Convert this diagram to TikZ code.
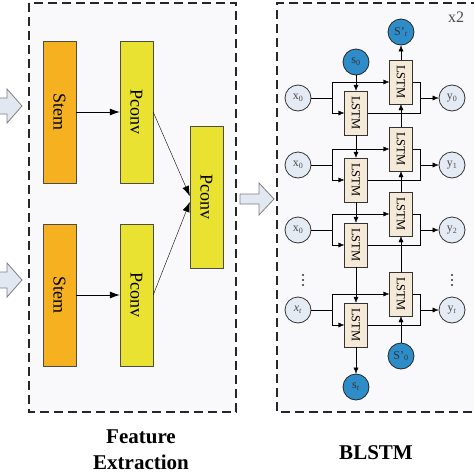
\documentclass[tikz,border=0pt]{standalone}
\usepackage{fontspec}
\setmainfont{Liberation Serif}
\usetikzlibrary{arrows.meta}

\definecolor{stemorange}{HTML}{F5B120}
\definecolor{pconvyellow}{HTML}{E9E231}
\definecolor{lstmbeige}{HTML}{F5EAD8}
\definecolor{inputgray}{HTML}{E4EBF4}
\definecolor{stateblue}{HTML}{2E8CC8}
\definecolor{panelgray}{HTML}{F9F8FA}
\definecolor{arrowgray}{HTML}{E2E8F1}

\tikzset{
  stembox/.style={draw=black!70, fill=stemorange, minimum width=33pt, minimum height=142pt,
    font=\fontsize{18}{18}\selectfont},
  pconvbox/.style={draw=black!70, fill=pconvyellow, minimum width=33pt, minimum height=142pt,
    font=\fontsize{18}{18}\selectfont},
  lstmbox/.style={draw=black!80, fill=lstmbeige, minimum width=23pt, minimum height=44pt,
    inner sep=0pt, font=\fontsize{12.5}{12.5}\selectfont},
  innode/.style={circle, draw=black!80, thick, fill=inputgray, minimum size=26pt, inner sep=0pt,
    font=\fontsize{12}{12}\selectfont, text=black!70},
  statenode/.style={circle, draw=black!85, thick, fill=stateblue, minimum size=26pt, inner sep=0pt,
    font=\fontsize{12}{12}\selectfont, text=black!80},
  dashline/.style={line width=1.6pt, dash pattern=on 9pt off 5pt, draw=black!85},
  blockarrow/.style={draw=black!50, fill=arrowgray, line width=0.8pt},
  bigtip/.style={-{Latex[length=10pt,width=7pt]}, thick},
  title/.style={font=\fontsize{21}{26}\selectfont\bfseries, align=center}
}

\begin{document}
\begin{tikzpicture}[x=1pt, y=-1pt, >={Latex[length=6pt,width=5pt]}]
  \useasboundingbox (0,0) rectangle (474,474);
  \clip (0,0) rectangle (474,474);
  \fill[white] (0,0) rectangle (474,474);

  % panels
  \fill[panelgray] (29,3) rectangle (236,412);
  \draw[dashline] (29,3) rectangle (236,412);
  \fill[panelgray] (277,3) rectangle (480,412);
  \draw[dashline] (480,3) -- (277,3) -- (277,412) -- (480,412);

  % block arrows
  \foreach \y in {106,280}
    \draw[blockarrow] (-5,\y-8) -- (7,\y-8) -- (7,\y-17) -- (22,\y) -- (7,\y+17) -- (7,\y+8) -- (-5,\y+8);
  \draw[blockarrow] (240,194) -- (259,194) -- (259,183) -- (274,199) -- (259,215) -- (259,204) -- (240,204) -- cycle;

  % feature extraction
  \node[stembox] (stem1) at (59.5,112) {\rotatebox{-90}{Stem}};
  \node[stembox] (stem2) at (59.5,295) {\rotatebox{-90}{Stem}};
  \node[pconvbox] (pconv1) at (136.5,112) {\rotatebox{-90}{Pconv}};
  \node[pconvbox] (pconv2) at (136.5,295) {\rotatebox{-90}{Pconv}};
  \node[pconvbox] (pconv3) at (206.5,197) {\rotatebox{-90}{Pconv}};
  \draw[bigtip] (stem1) -- (pconv1);
  \draw[bigtip] (stem2) -- (pconv2);
  \draw[bigtip, thin] (pconv1.east) -- ([yshift=1pt]pconv3.west);
  \draw[bigtip, thin] (pconv2.east) -- ([yshift=-5pt]pconv3.west);

  % blstm
  \foreach \i/\y/\xl/\yl in {1/98/x\textsubscript{0}/y\textsubscript{0},
      2/165/x\textsubscript{0}/y\textsubscript{1},
      3/230/x\textsubscript{0}/y\textsubscript{2},
      4/310/\textit{x}\textsubscript{\textit{t}}/y\textsubscript{\textit{t}}} {
    \node[innode] (x\i) at (298,\y) {\xl};
    \node[innode] (y\i) at (452,\y) {\yl};
    \node[lstmbox] (f\i) at (356,\y+15) {\rotatebox{-90}{LSTM}};
    \node[lstmbox] (b\i) at (401,\y-16) {\rotatebox{-90}{LSTM}};
    \coordinate (sp\i) at (332,\y);
    \coordinate (mg\i) at (420,\y);
    \draw (x\i) -- (sp\i);
    \draw[->] (sp\i) |- (b\i.west);
    \draw[->] (sp\i) |- (f\i.west);
    \draw (b\i.east) -| (mg\i);
    \draw (f\i.east) -| (mg\i);
    \draw[->] (mg\i) -- (y\i);
  }
  \node[statenode] (s0) at (356,62) {s\textsubscript{0}};
  \node[statenode] (st) at (356,387) {s\textsubscript{\textit{t}}};
  \node[statenode] (sb0) at (401,356) {S'\textsubscript{0}};
  \node[statenode] (sbt) at (401,32) {S'\textsubscript{\textit{t}}};
  \foreach \a/\b in {s0/f1,f1/f2,f2/f3,f3/f4,f4/st,sb0/b4,b4/b3,b3/b2,b2/b1,b1/sbt}
    \draw[->] (\a) -- (\b);
  % vertical dots
  \coordinate (xdots) at (303,280);
  \coordinate (ydots) at (452,280);
  \foreach \d in {-5,0,5} {
    \fill[black!80] ([yshift=\d pt]xdots) circle (1.1pt);
    \fill[black!80] ([yshift=\d pt]ydots) circle (1.1pt);
  }
  \node[font=\fontsize{16}{16}\selectfont, text=black!70] (rep) at (456,17) {x2};

  % titles
  \node[title] (fetitle) at (141,450) {Feature\\Extraction};
  \node[title] (bltitle) at (376,453) {BLSTM};
\end{tikzpicture}
\end{document}
